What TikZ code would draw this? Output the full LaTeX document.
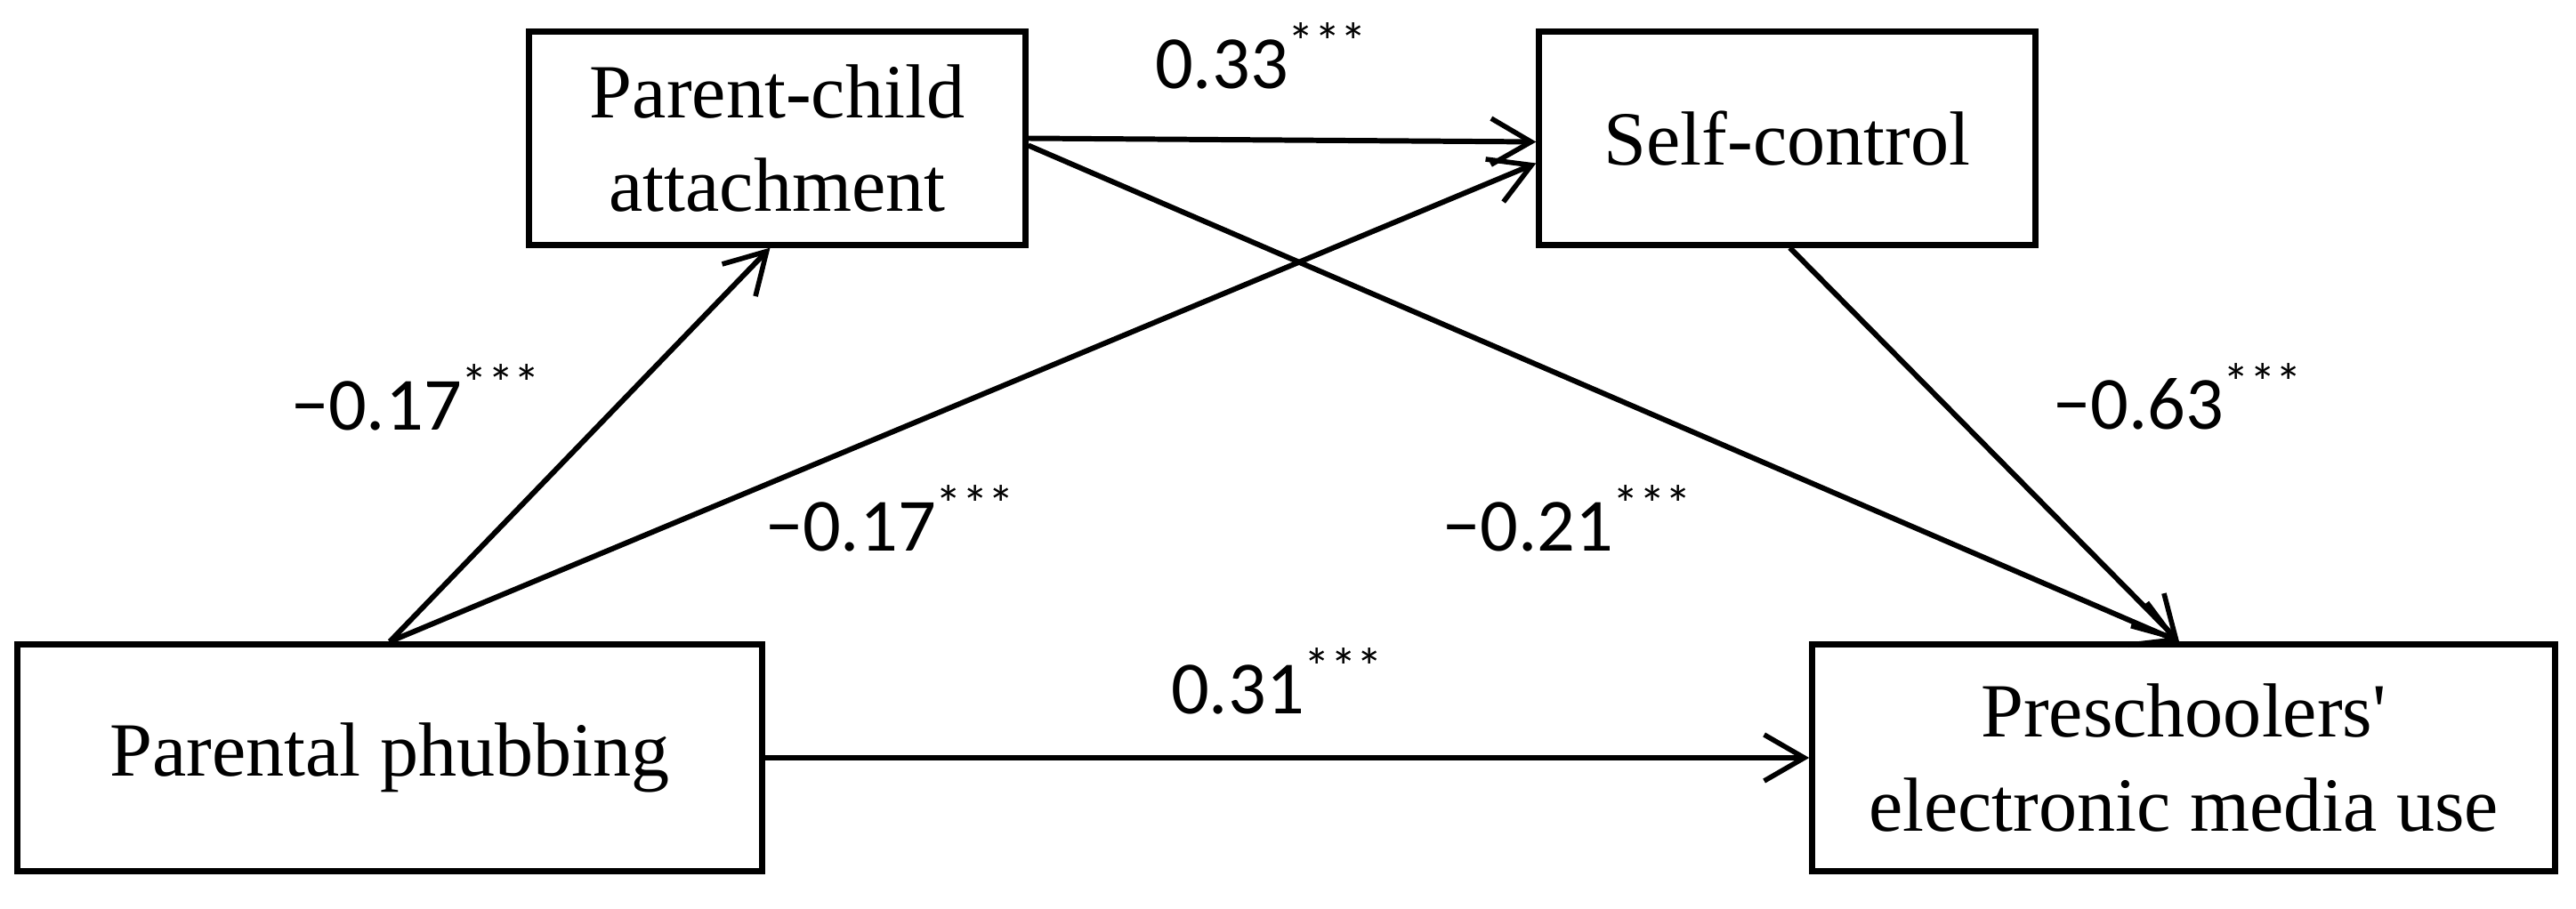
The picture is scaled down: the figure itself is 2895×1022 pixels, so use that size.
\documentclass[tikz,border=0pt]{standalone}
\usepackage{fontspec}
\setmainfont{Liberation Serif}[Ligatures=TeXReset]
\newfontfamily\lblfont{Carlito}
\usetikzlibrary{arrows.meta,calc}
\tikzset{
  box/.style={draw,line width=2pt,inner sep=0pt,align=center,font=\fontsize{24.5}{30}\selectfont},
  link/.style={line width=1.7pt,-{Straight Barb[length=4.5mm,width=5.2mm,line width=1.6pt]}},
  lbl/.style={font=\lblfont\fontsize{24}{28}\selectfont,inner sep=0pt}
}
\newcommand{\stars}{\textsuperscript{***}}
\begin{document}
\begin{tikzpicture}[x=0.01cm,y=-0.01cm]
\useasboundingbox (0,0) rectangle (2895,1022);
\node[box,minimum width=5.57cm,minimum height=2.39cm] (pca) at (873.5,155.5) {Parent-child\\attachment};
\node[box,minimum width=5.57cm,minimum height=2.39cm] (sc) at (2008.5,155.5) {Self-control};
\node[box,minimum width=8.36cm,minimum height=2.54cm] (ph) at (438,852) {Parental phubbing};
\node[box,minimum width=8.34cm,minimum height=2.54cm] (pre) at (2454,852) {Preschoolers'\\electronic media use};
\coordinate (tip) at ($(pre.north)+(-5,0)$);
\draw[link] (ph.north) -- ($(pca.south)+(-8,0)$);
\draw[link] (ph.north) -- ($(sc.west)+(0,28)$);
\draw[link] (pca.east) -- ($(sc.west)+(0,4)$);
\draw[link] ($(pca.east)+(0,8)$) -- (tip);
\draw[link] ($(sc.south)+(3,0)$) -- (tip);
\draw[link] (ph.east) -- (pre.west);
\node[lbl] (l1) at (1418,63) {0.33\stars};
\node[lbl] (l2) at (468,447) {−0.17\stars};
\node[lbl] (l3) at (1001,583) {−0.17\stars};
\node[lbl] (l4) at (1436,766) {0.31\stars};
\node[lbl] (l5) at (2448,446) {−0.63\stars};
\node[lbl] (l6) at (1762,583) {−0.21\stars};
\end{tikzpicture}
\end{document}
